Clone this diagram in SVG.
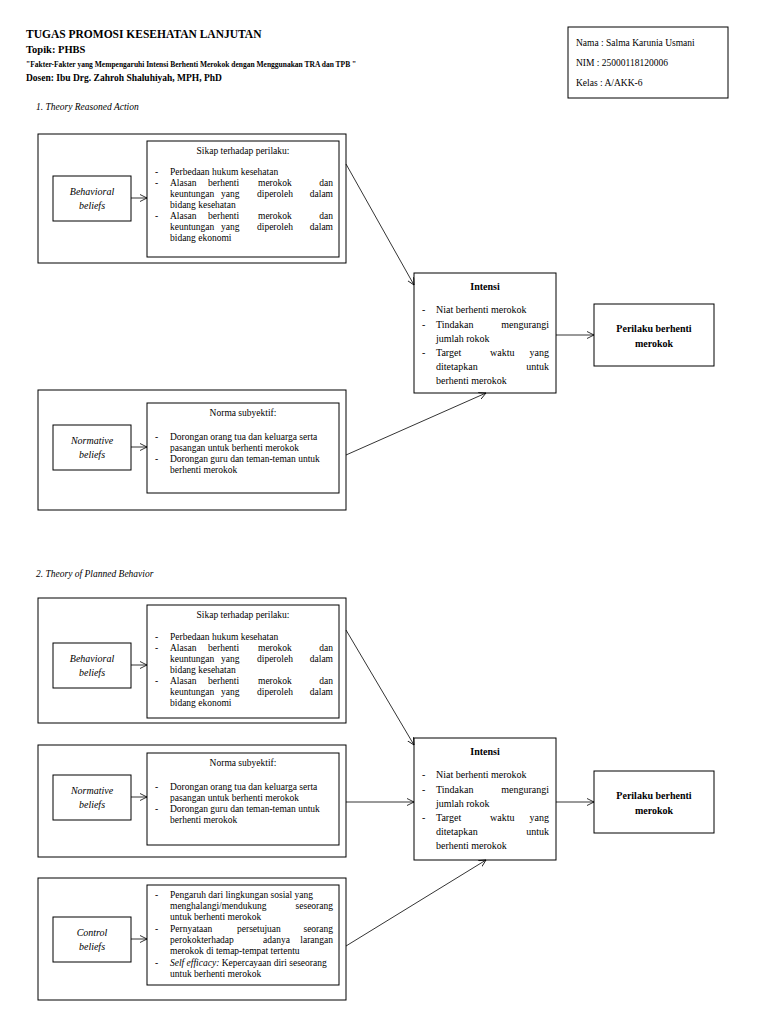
<svg xmlns="http://www.w3.org/2000/svg" width="768" height="1024" viewBox="0 0 768 1024">
<style>
text{font-family:"Liberation Serif",serif;fill:#000}
.b{fill:none;stroke:#000;stroke-width:1}
.s{font-size:9.5px}
.h{font-weight:bold}
.i{font-style:italic}
.c{text-anchor:middle}
.e{text-anchor:end}
.l{stroke:#000;stroke-width:0.8;fill:none;marker-end:url(#a)}
</style>
<defs><marker id="a" markerWidth="8" markerHeight="8" refX="7" refY="4" orient="auto" markerUnits="userSpaceOnUse"><path d="M0,0.5 L7,4 L0,7.5" fill="none" stroke="#000" stroke-width="0.8"/></marker></defs>
<rect width="768" height="1024" fill="#fff"/>
<g id="header">
<text x="26" y="38" class="h" font-size="11.5">TUGAS PROMOSI KESEHATAN LANJUTAN</text>
<text x="26" y="53" class="h" font-size="10.5">Topik: PHBS</text>
<text x="26" y="67" class="h" font-size="7.5">"Fakter-Fakter yang Mempengaruhi Intensi Berhenti Merokok dengan Menggunakan TRA dan TPB "</text>
<text x="26" y="81" class="h" font-size="9.5">Dosen: Ibu Drg. Zahroh  Shaluhiyah, MPH, PhD</text>
<text x="36" y="110" class="i" font-size="9.5">1.  Theory Reasoned Action</text>
<text x="36" y="577" class="i" font-size="9.5">2.  Theory of Planned Behavior</text>
</g>
<g id="idbox">
<rect x="568" y="27" width="160" height="71" class="b" stroke-width="1.5"/>
<text x="576" y="46" font-size="9.5">Nama  : Salma Karunia Usmani</text>
<text x="576" y="66" font-size="9.5">NIM    : 25000118120006</text>
<text x="576" y="86" font-size="9.5">Kelas  : A/AKK-6</text>
</g>
<g id="tra-sikap">
<rect x="38" y="134" width="308" height="129" class="b"/>
<rect x="147" y="141" width="192" height="116" class="b"/>
<rect x="53" y="176" width="78" height="45" class="b"/>
<text x="92" y="195" class="i c" font-size="10">Behavioral</text>
<text x="92" y="209" class="i c" font-size="10">beliefs</text>
<text x="243" y="154" class="s c">Sikap terhadap perilaku:</text>
<g class="s">
<text x="155" y="175">-</text><text x="170" y="175">Perbedaan hukum kesehatan</text>
<text x="155" y="186">-</text><text x="170" y="186">Alasan</text><text x="208" y="186">berhenti</text><text x="258" y="186">merokok</text><text x="333" y="186" class="e">dan</text>
<text x="170" y="197">keuntungan</text><text x="221" y="197">yang</text><text x="257" y="197">diperoleh</text><text x="333" y="197" class="e">dalam</text>
<text x="170" y="208">bidang kesehatan</text>
<text x="155" y="219">-</text><text x="170" y="219">Alasan</text><text x="208" y="219">berhenti</text><text x="258" y="219">merokok</text><text x="333" y="219" class="e">dan</text>
<text x="170" y="230">keuntungan</text><text x="221" y="230">yang</text><text x="257" y="230">diperoleh</text><text x="333" y="230" class="e">dalam</text>
<text x="170" y="241">bidang ekonomi</text>
</g>
</g>
<g id="tra-norma">
<rect x="38" y="390" width="308" height="120" class="b"/>
<rect x="147" y="403" width="192" height="90" class="b"/>
<rect x="53" y="425" width="78" height="45" class="b"/>
<text x="92" y="444" class="i c" font-size="10">Normative</text>
<text x="92" y="458" class="i c" font-size="10">beliefs</text>
<text x="243" y="416" class="s c">Norma subyektif:</text>
<g class="s">
<text x="155" y="440">-</text><text x="170" y="440">Dorongan orang tua dan keluarga serta</text>
<text x="170" y="451">pasangan untuk berhenti merokok</text>
<text x="155" y="462">-</text><text x="170" y="462">Dorongan guru dan teman-teman untuk</text>
<text x="170" y="473">berhenti merokok</text>
</g>
</g>
<g id="tra-intensi">
<rect x="414" y="273" width="142" height="120" class="b"/>
<text x="485" y="290" class="h c" font-size="10">Intensi</text>
<g font-size="10">
<text x="422" y="313">-</text><text x="436" y="313">Niat berhenti merokok</text>
<text x="422" y="328">-</text><text x="436" y="328">Tindakan</text><text x="549" y="328" class="e">mengurangi</text>
<text x="436" y="342">jumlah rokok</text>
<text x="422" y="356">-</text><text x="436" y="356">Target</text><text x="490" y="356">waktu</text><text x="549" y="356" class="e">yang</text>
<text x="436" y="370">ditetapkan</text><text x="549" y="370" class="e">untuk</text>
<text x="436" y="384">berhenti merokok</text>
</g>
</g>
<g id="tra-perilaku">
<rect x="594" y="304" width="120" height="62" class="b"/>
<text x="654" y="332" class="h c" font-size="10">Perilaku berhenti</text>
<text x="654" y="347" class="h c" font-size="10">merokok</text>
</g>
<g id="tpb-sikap">
<rect x="38" y="598" width="308" height="125" class="b"/>
<rect x="147" y="605" width="192" height="113" class="b"/>
<rect x="53" y="643" width="78" height="45" class="b"/>
<text x="92" y="662" class="i c" font-size="10">Behavioral</text>
<text x="92" y="676" class="i c" font-size="10">beliefs</text>
<text x="243" y="618" class="s c">Sikap terhadap perilaku:</text>
<g class="s">
<text x="155" y="640">-</text><text x="170" y="640">Perbedaan hukum kesehatan</text>
<text x="155" y="651">-</text><text x="170" y="651">Alasan</text><text x="208" y="651">berhenti</text><text x="258" y="651">merokok</text><text x="333" y="651" class="e">dan</text>
<text x="170" y="662">keuntungan</text><text x="221" y="662">yang</text><text x="257" y="662">diperoleh</text><text x="333" y="662" class="e">dalam</text>
<text x="170" y="673">bidang kesehatan</text>
<text x="155" y="684">-</text><text x="170" y="684">Alasan</text><text x="208" y="684">berhenti</text><text x="258" y="684">merokok</text><text x="333" y="684" class="e">dan</text>
<text x="170" y="695">keuntungan</text><text x="221" y="695">yang</text><text x="257" y="695">diperoleh</text><text x="333" y="695" class="e">dalam</text>
<text x="170" y="706">bidang ekonomi</text>
</g>
</g>
<g id="tpb-norma">
<rect x="38" y="745" width="308" height="112" class="b"/>
<rect x="147" y="753" width="192" height="92" class="b"/>
<rect x="53" y="775" width="78" height="45" class="b"/>
<text x="92" y="794" class="i c" font-size="10">Normative</text>
<text x="92" y="808" class="i c" font-size="10">beliefs</text>
<text x="243" y="766" class="s c">Norma subyektif:</text>
<g class="s">
<text x="155" y="790">-</text><text x="170" y="790">Dorongan orang tua dan keluarga serta</text>
<text x="170" y="801">pasangan untuk berhenti merokok</text>
<text x="155" y="812">-</text><text x="170" y="812">Dorongan guru dan teman-teman untuk</text>
<text x="170" y="823">berhenti merokok</text>
</g>
</g>
<g id="tpb-control">
<rect x="38" y="878" width="308" height="122" class="b"/>
<rect x="147" y="885" width="192" height="100" class="b"/>
<rect x="53" y="917" width="78" height="45" class="b"/>
<text x="92" y="936" class="i c" font-size="10">Control</text>
<text x="92" y="950" class="i c" font-size="10">beliefs</text>
<g class="s">
<text x="155" y="898">-</text><text x="170" y="898">Pengaruh dari lingkungan sosial yang</text>
<text x="170" y="909">menghalangi/mendukung</text><text x="333" y="909" class="e">seseorang</text>
<text x="170" y="920">untuk berhenti merokok</text>
<text x="155" y="932">-</text><text x="170" y="932">Pernyataan</text><text x="237" y="932">persetujuan</text><text x="333" y="932" class="e">seorang</text>
<text x="170" y="943">perokokterhadap</text><text x="263" y="943">adanya</text><text x="333" y="943" class="e">larangan</text>
<text x="170" y="954">merokok di temap-tempat tertentu</text>
<text x="155" y="966">-</text><text x="170" y="966"><tspan font-style="italic">Self efficacy:</tspan> Kepercayaan diri seseorang</text>
<text x="170" y="977">untuk berhenti merokok</text>
</g>
</g>
<g id="tpb-intensi">
<rect x="414" y="738" width="142" height="122" class="b"/>
<text x="485" y="755" class="h c" font-size="10">Intensi</text>
<g font-size="10">
<text x="422" y="778">-</text><text x="436" y="778">Niat berhenti merokok</text>
<text x="422" y="793">-</text><text x="436" y="793">Tindakan</text><text x="549" y="793" class="e">mengurangi</text>
<text x="436" y="807">jumlah rokok</text>
<text x="422" y="821">-</text><text x="436" y="821">Target</text><text x="490" y="821">waktu</text><text x="549" y="821" class="e">yang</text>
<text x="436" y="835">ditetapkan</text><text x="549" y="835" class="e">untuk</text>
<text x="436" y="849">berhenti merokok</text>
</g>
</g>
<g id="tpb-perilaku">
<rect x="594" y="771" width="120" height="62" class="b"/>
<text x="654" y="799" class="h c" font-size="10">Perilaku berhenti</text>
<text x="654" y="814" class="h c" font-size="10">merokok</text>
</g>
<g id="connectors">
<line x1="131" y1="198" x2="147" y2="198" class="l"/>
<line x1="131" y1="447" x2="147" y2="447" class="l"/>
<line x1="346" y1="164" x2="414" y2="285" class="l"/>
<line x1="346" y1="455" x2="486" y2="393" class="l"/>
<line x1="556" y1="335" x2="594" y2="335" class="l"/>
<line x1="131" y1="665" x2="147" y2="665" class="l"/>
<line x1="131" y1="797" x2="147" y2="797" class="l"/>
<line x1="131" y1="939" x2="147" y2="939" class="l"/>
<line x1="346" y1="630" x2="414" y2="745" class="l"/>
<line x1="346" y1="802" x2="414" y2="802" class="l"/>
<line x1="346" y1="946" x2="486" y2="860" class="l"/>
<line x1="556" y1="802" x2="594" y2="802" class="l"/>
</g>
</svg>
